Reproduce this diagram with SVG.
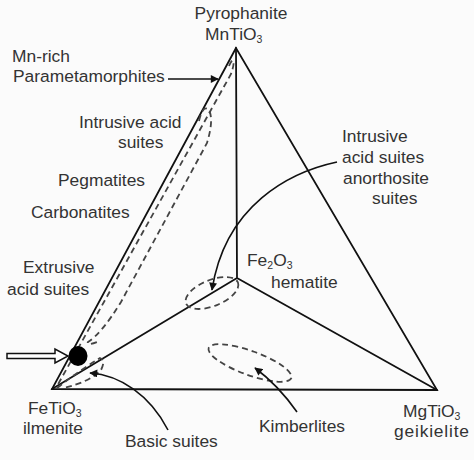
<svg xmlns="http://www.w3.org/2000/svg" width="474" height="460" viewBox="0 0 474 460">
<defs>
<style>
.t{font-family:"Liberation Sans",Arial,Helvetica,sans-serif;font-size:17.4px;fill:#333;}
.s{font-size:10.5px;}
.edge{stroke:#111;stroke-width:1.8;fill:none;stroke-linecap:round;}
.dash{stroke:#444;stroke-width:1.8;fill:none;stroke-dasharray:6 4;}
.arr{stroke:#111;stroke-width:1.6;fill:none;marker-end:url(#ah);}
</style>
<marker id="ah" viewBox="0 0 10 10" refX="9" refY="5" markerWidth="9" markerHeight="8" markerUnits="userSpaceOnUse" orient="auto">
<path d="M0,0 L10,5 L0,10 z" fill="#111"/>
</marker>
</defs>
<rect width="474" height="460" fill="#fbfbfb"/>

<g id="edges">
<path class="edge" d="M236,48 L52,389 L437,390 Z"/>
<path class="edge" d="M236,48 L237,278 M52,389 L237,278 L437,390"/>
</g>

<g id="fields">
<path id="parametamorphites-field" class="dash" d="M229,66 C233,56 236,60 231,74 L56,388"/>
<path id="intrusive-field" class="dash" d="M199,121 Q203,104 209,110 Q214,120 207,143 L121,302 Q102,333 88,342 Q86,346 97,342"/>
<path id="basic-field" class="dash" d="M57,388 Q80,370 100,358 Q106,360 101,370 Q90,382 63,388"/>
<ellipse id="hematite-field" class="dash" cx="212" cy="293" rx="28" ry="13" transform="rotate(-22 212 293)"/>
<ellipse id="kimberlite-field" class="dash" cx="250" cy="363" rx="44" ry="12" transform="rotate(20 250 363)"/>
</g>

<g id="ilmenite-marker">
<ellipse cx="78" cy="356" rx="9.5" ry="10" fill="#000"/>
<path d="M7,353.5 L55,353.5 L55,349 L68,356 L55,363 L55,358.5 L7,358.5 Z" fill="#fff" stroke="#111" stroke-width="1.5"/>
</g>

<g id="connectors">
<path class="arr" d="M168,79 L218,79"/>
<path class="arr" d="M337,162 C290,172 225,205 212,290"/>
<path class="arr" d="M297,412 Q278,385 255,368"/>
<path class="arr" d="M168,430 C150,395 120,375 90,373"/>
</g>

<g id="node-mn">
<text class="t" x="241" y="19" text-anchor="middle">Pyrophanite</text>
<text class="t" x="205" y="40">MnTiO<tspan class="s" dy="3">3</tspan></text>
</g>
<g id="node-fe">
<text class="t" x="28" y="414">FeTiO<tspan class="s" dy="3">3</tspan></text>
<text class="t" x="23" y="434">ilmenite</text>
</g>
<g id="node-mg">
<text class="t" x="403" y="417">MgTiO<tspan class="s" dy="3">3</tspan></text>
<text class="t" x="394" y="437" textLength="75">geikielite</text>
</g>
<g id="node-hematite">
<text class="t" x="247" y="266">Fe<tspan class="s" dy="3">2</tspan><tspan dy="-3">O</tspan><tspan class="s" dy="3">3</tspan></text>
<text class="t" x="271" y="288">hematite</text>
</g>

<g id="labels">
<text class="t" x="12" y="62">Mn-rich</text>
<text class="t" x="13" y="82">Parametamorphites</text>
<text class="t" x="79" y="128">Intrusive acid</text>
<text class="t" x="118" y="148">suites</text>
<text class="t" x="58" y="186">Pegmatites</text>
<text class="t" x="31" y="218">Carbonatites</text>
<text class="t" x="23" y="273">Extrusive</text>
<text class="t" x="7" y="295">acid suites</text>
<text class="t" x="342" y="142">Intrusive</text>
<text class="t" x="342" y="163">acid suites</text>
<text class="t" x="343" y="184">anorthosite</text>
<text class="t" x="372" y="204">suites</text>
<text class="t" x="259" y="432">Kimberlites</text>
<text class="t" x="125" y="447">Basic suites</text>
</g>
</svg>
